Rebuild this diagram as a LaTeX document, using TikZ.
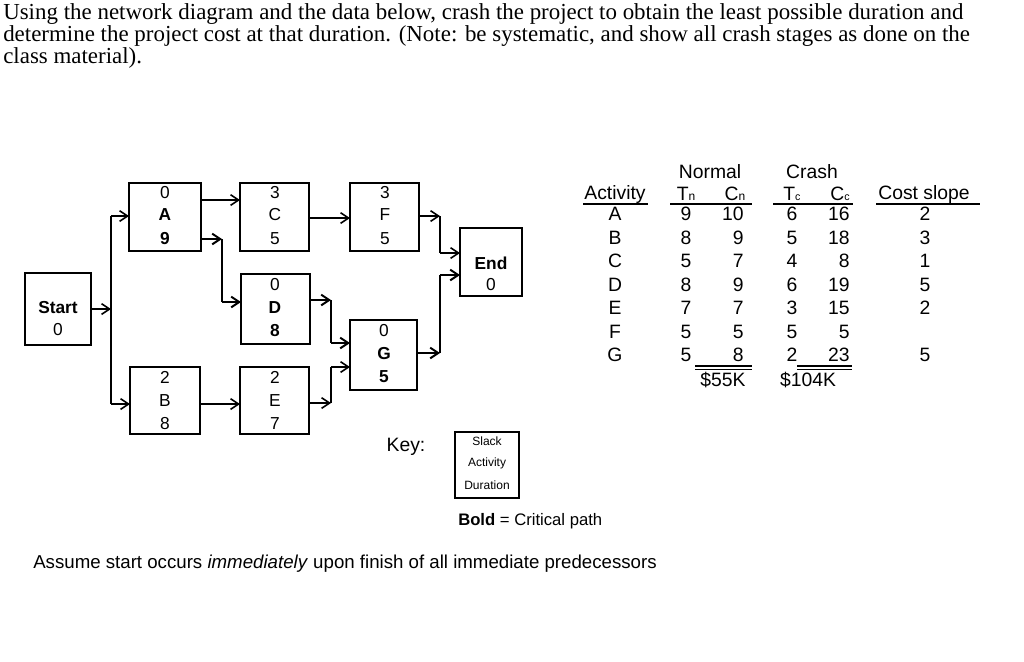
\documentclass[tikz,border=0pt]{standalone}
\usepackage{fontspec}
\setmainfont{Liberation Serif}
\setsansfont{Liberation Sans}
\usetikzlibrary{arrows.meta}
\begin{document}
\begin{tikzpicture}[x=0.75pt,y=-0.75pt,
  nb/.style={draw,line width=0.9pt},
  cb/.style={draw,line width=2.2pt},
  conn/.style={line width=1pt,-{Straight Barb[length=6pt,width=8pt,line width=1.2pt]}},
  cconn/.style={line width=2pt,-{Straight Barb[length=6pt,width=8pt,line width=1.5pt]}},
  seg/.style={line width=1pt},
  cseg/.style={line width=2pt},
  tx/.style={font=\sffamily\fontsize{13}{15}\selectfont,inner sep=0pt},
  txb/.style={font=\sffamily\bfseries\fontsize{13}{15}\selectfont,inner sep=0pt},
  tb/.style={font=\sffamily\fontsize{14.5}{16}\selectfont,inner sep=0pt},
  top/.style={font=\fontsize{17.2}{19}\selectfont,anchor=west,inner sep=0pt}]
\useasboundingbox (0,0) rectangle (1024,661);
\node[top] (t1) at (3,14) {Using the network diagram and the data below, crash the project to obtain the least possible duration and};
\node[top] (t2) at (3,36) {determine the project cost at that duration. (Note: be systematic, and show all crash stages as done on the};
\node[top] (t3) at (3,58) {class material).};
% boxes
\draw[cb] (25,273) rectangle (91,345); \node[txb] (st1) at (58,308) {Start}; \node[tx] (st2) at (58,330) {0};
\draw[cb] (129,183) rectangle (201,251); \node[tx] (a1) at (165,193){0};\node[txb] (a2) at (165,215){A};\node[txb] (a3) at (165,239){9};
\draw[nb] (240,183) rectangle (309,251); \node[tx] (c1) at (275,193){3};\node[tx] (c2) at (275,215){C};\node[tx] (c3) at (275,239){5};
\draw[nb] (350,183) rectangle (419,251); \node[tx] (f1) at (385,193){3};\node[tx] (f2) at (385,215){F};\node[tx] (f3) at (385,239){5};
\draw[cb] (460,228) rectangle (522,296); \node[txb] (e1) at (491,263){End};\node[tx] (e2) at (491,285){0};
\draw[cb] (241,274) rectangle (310,344); \node[tx] (d1) at (275,285){0};\node[txb] (d2) at (275,308){D};\node[txb] (d3) at (275,331){8};
\draw[cb] (350,320) rectangle (417,390); \node[tx] (g1) at (384,331){0};\node[txb] (g2) at (384,354){G};\node[txb] (g3) at (384,377){5};
\draw[nb] (130,367) rectangle (200,434); \node[tx] (b1) at (165,377){2};\node[tx] (b2) at (165,401){B};\node[tx] (b3) at (165,424){8};
\draw[nb] (240,367) rectangle (309,434); \node[tx] (ee1) at (275,377){2};\node[tx] (ee2) at (275,401){E};\node[tx] (ee3) at (275,424){7};
% connectors
\coordinate (s0) at (91,309); \coordinate (s1) at (111,309);
\coordinate (ta) at (111,216); \coordinate (tb) at (111,404);
\coordinate (ain) at (129,216); \coordinate (bin) at (130,404);
\draw[conn] (s0) -- (s1);
\draw[seg] (ta) -- (tb);
\draw[conn] (ta) -- (ain);
\draw[conn] (tb) -- (bin);
\draw[conn] (201,200) -- (240,200);
\draw[cconn] (201,239) -- (222,239);
\draw[cseg] (222,239) -- (222,302);
\draw[cconn] (222,302) -- (241,302);
\draw[conn] (309,218) -- (350,218);
\draw[conn] (419,216) -- (440,216);
\draw[seg] (440,216) -- (440,253);
\draw[conn] (440,253) -- (460,253);
\draw[cconn] (310,300) -- (331,300);
\draw[cseg] (331,300) -- (331,343);
\draw[cconn] (331,343) -- (350,343);
\draw[conn] (200,404) -- (240,404);
\draw[conn] (309,403) -- (331,403);
\draw[seg] (331,403) -- (331,367);
\draw[conn] (331,367) -- (350,367);
\draw[cconn] (417,353) -- (440,353);
\draw[cseg] (440,353) -- (440,275);
\draw[cconn] (440,275) -- (460,275);
% table
\node[tb] (hn) at (710,172){Normal};
\node[tb] (hc) at (812,172){Crash};
\node[tb] (ha) at (615,194){Activity};
\node[tb] (htn) at (686,194){T{\fontsize{9}{10}\selectfont n}};
\node[tb] (hcn) at (735,194){C{\fontsize{9}{10}\selectfont n}};
\node[tb] (htc) at (792,194){T{\fontsize{8}{9}\selectfont c}};
\node[tb] (hcc) at (840,194){C{\fontsize{8}{9}\selectfont c}};
\node[tb] (hs) at (924,194){Cost slope};
\draw[line width=1.2pt] (583,204) -- (648,204);
\draw[line width=1.2pt] (670,204) -- (752,204);
\draw[line width=1.2pt] (773,204) -- (853,204);
\draw[line width=1.2pt] (876,204) -- (980,204);
\foreach \a/\tn/\cn/\tc/\cc/\cs [count=\i from 0] in {A/9/10/6/16/2,B/8/9/5/18/3,C/5/7/4/8/1,D/8/9/6/19/5,E/7/7/3/15/2,F/5/5/5/5/,G/5/8/2/23/5}{
  \node[tb] (ra\i) at (615,{214+23.5*\i}){\a};
  \node[tb] (rtn\i) at (686,{214+23.5*\i}){\tn};
  \node[tb,anchor=east] (rcn\i) at (744,{214+23.5*\i}){\cn};
  \node[tb] (rtc\i) at (792,{214+23.5*\i}){\tc};
  \node[tb,anchor=east] (rcc\i) at (850,{214+23.5*\i}){\cc};
  \node[tb] (rcs\i) at (925,{214+23.5*\i}){\cs};
}
\draw[line width=1pt] (695,366) -- (752,366) (695,369.5) -- (752,369.5);
\draw[line width=1pt] (797,366) -- (852,366) (797,369.5) -- (852,369.5);
\node[tb] (tot1) at (723,380){\$55K};
\node[tb] (tot2) at (808,380){\$104K};
% key
\node[tb] (key) at (406,447){Key:};
\draw[line width=0.8pt] (455,432) rectangle (519,498);
\node[inner sep=0pt,font=\sffamily\fontsize{9}{10}\selectfont] (k1) at (487,441){Slack};
\node[inner sep=0pt,font=\sffamily\fontsize{9}{10}\selectfont] (k2) at (487,463){Activity};
\node[inner sep=0pt,font=\sffamily\fontsize{9}{10}\selectfont] (k3) at (487,485){Duration};
\node[inner sep=0pt,anchor=west,font=\sffamily\fontsize{12.5}{14}\selectfont] (bold) at (458,521){\textbf{Bold} = Critical path};
\node[inner sep=0pt,anchor=west,font=\sffamily\fontsize{14}{16}\selectfont] (assume) at (33,564){Assume start occurs \textit{immediately} upon finish of all immediate predecessors};
\end{tikzpicture}
\end{document}
